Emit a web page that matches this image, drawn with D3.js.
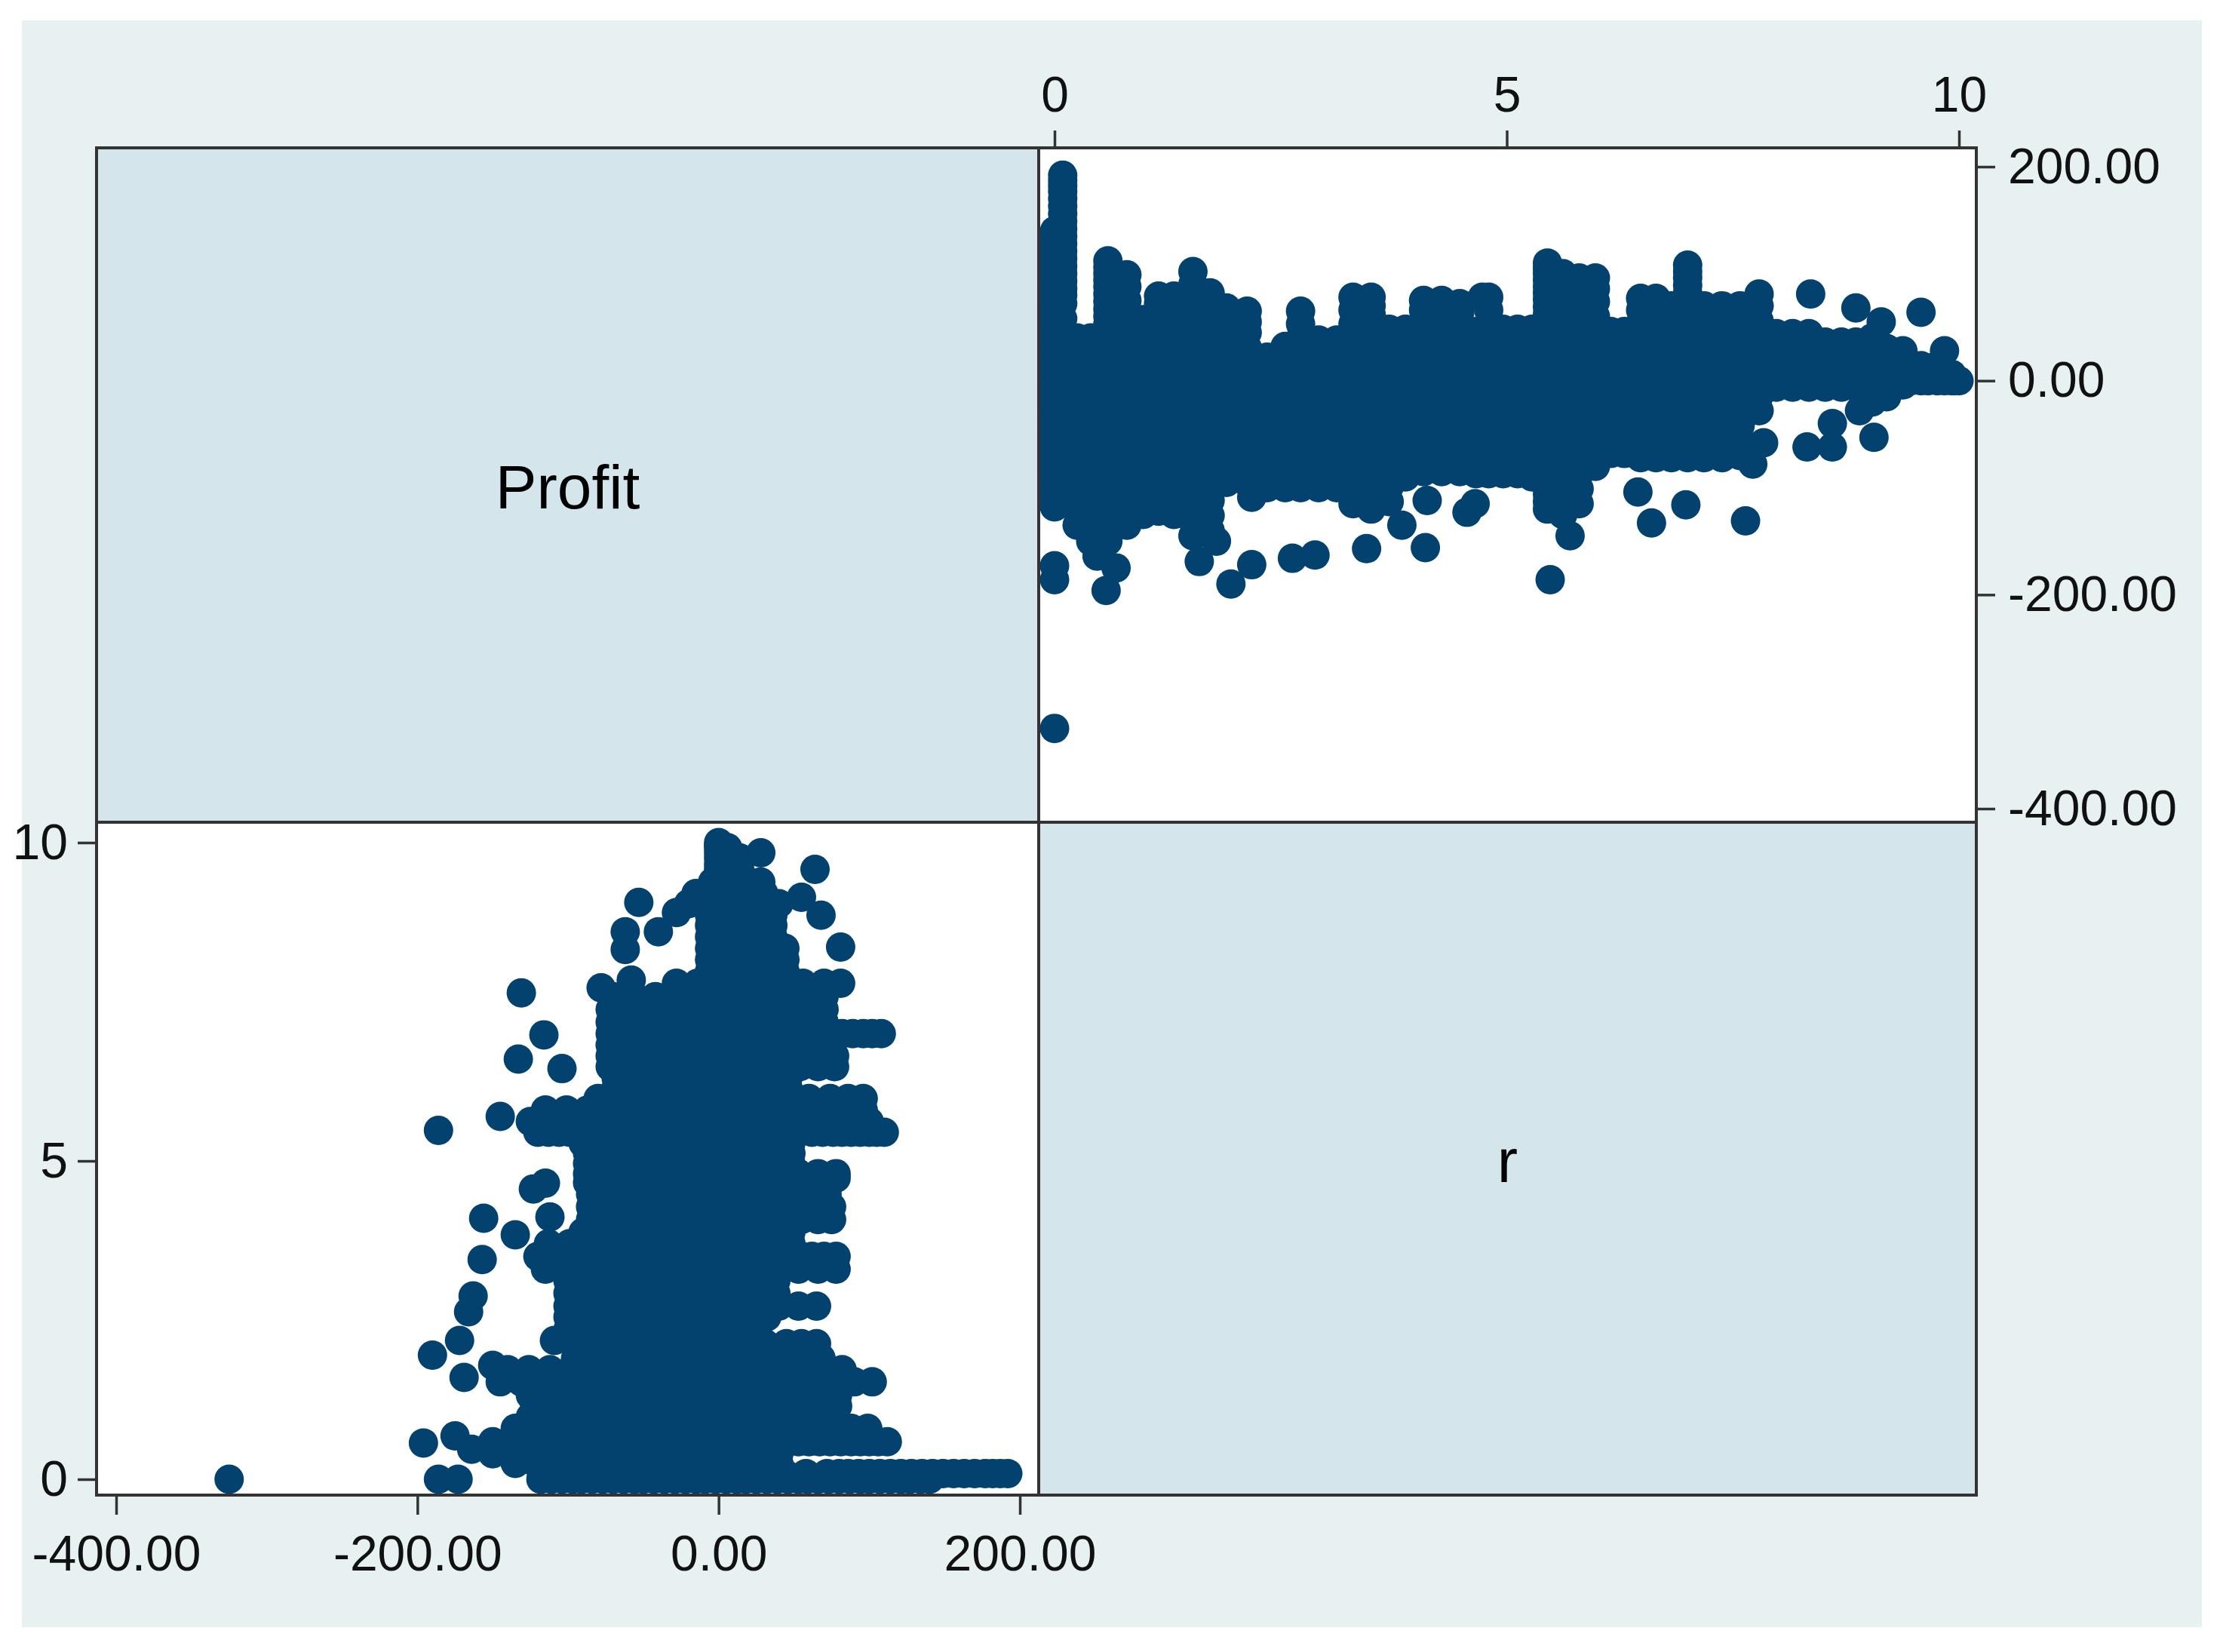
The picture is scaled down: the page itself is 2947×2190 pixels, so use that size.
<!DOCTYPE html>
<html>
<head>
<meta charset="utf-8">
<script src="https://cdnjs.cloudflare.com/ajax/libs/d3/7.8.5/d3.min.js"></script>
<style>
  html, body { margin: 0; padding: 0; background: #ffffff; }
  svg { display: block; }
</style>
</head>
<body>
<svg id="chart" width="2947" height="2190"></svg>
<script>
// ---------------- DATA ----------------
const varNames = ["Profit", "r"];

// r levels and the Profit values observed at each level
const rLevels = [0.00, 0.09, 0.25, 0.40, 0.59, 0.80, 0.98, 1.15, 1.32, 1.53, 1.72, 1.90, 2.13, 2.35, 2.55, 2.72, 2.92, 3.12,
  3.30, 3.50, 3.70, 3.88, 4.08, 4.28, 4.48, 4.66, 4.80, 4.96, 5.12, 5.28, 5.45, 5.62, 5.80, 5.98, 6.15, 6.30,
  6.48, 6.65, 6.82, 7.00, 7.18, 7.38, 7.58, 7.79, 7.98, 8.16, 8.34, 8.52, 8.70, 8.86, 9.04, 9.20, 9.38, 9.58, 9.76, 9.92, 10.00];

const profitAtLevel = [
  [-118,-111,-104,-97,-91,-84,-77,-70,-63,-56,-50,-43,-36,-29,-22,-15,-9,-2,5,12,18,25,32,39,46,53,59,66,73,80,87,94,100,107,114,121,127,134,140],
  [-110,-96,-82,-68,-54,-40,-26,-12,2,16,30,44,58,72,80,86,93,100,107,114,121,128,135,142,149,156,163,170,177,182,187,192],
  [-135,-121,-107,-93,-79,-65,-51,-37,-23,-9,5,19,30,40],
  [-150,-136,-122,-108,-94,-80,-66,-52,-38,-24,-10,4,18,30,40],
  [-150,-136,-122,-108,-94,-80,-66,-52,-45,-38,-31,-24,-17,-10,-3,4,11,18,25,32,39,46,53,60,67,74,81,88,94,100,106,112],
  [-135,-121,-107,-93,-79,-65,-51,-37,-23,-9,5,19,33,47,61,75,88,99],
  [-125,-111,-97,-83,-69,-55,-41,-27,-13,1,15,29,43,57],
  [-122,-108,-94,-80,-66,-52,-38,-24,-10,4,18,32,46,60,72,79],
  [-125,-111,-97,-83,-69,-55,-41,-27,-13,1,15,29,43,57,70,79],
  [-145,-131,-117,-103,-89,-75,-61,-47,-33,-19,-5,9,23,37,51,65,78,90,102],
  [-140,-126,-112,-98,-84,-70,-56,-42,-28,-14,0,14,28,42,56,70,82],
  [-95,-81,-67,-53,-39,-25,-11,3,17,31,45,57,68],
  [-95,-81,-67,-53,-39,-25,-11,3,17,31,45,55,65],
  [-100,-86,-72,-58,-44,-30,-16,-2,10,22],
  [-100,-86,-72,-58,-44,-30,-16,-2,12,22,32],
  [-100,-86,-72,-58,-44,-30,-16,-2,12,26,40,53,65],
  [-100,-86,-72,-58,-44,-30,-16,-2,12,26,38],
  [-100,-86,-72,-58,-44,-30,-16,-2,12,26,38],
  [-115,-101,-87,-73,-59,-45,-31,-17,-3,11,25,39,53,66,78],
  [-120,-113,-106,-99,-92,-85,-78,-71,-64,-50,-36,-22,-8,6,20,34,41,48,55,62,70,78],
  [-113,-99,-85,-71,-57,-43,-29,-15,-1,13,27,38,48],
  [-90,-76,-62,-48,-34,-20,-6,8,22,34,48],
  [-85,-71,-57,-43,-29,-15,-1,13,27,41,55,66,75],
  [-85,-71,-57,-43,-29,-15,-1,13,27,41,55,66,75],
  [-85,-71,-57,-43,-29,-15,-1,13,27,41,55,64,72],
  [-87,-73,-59,-45,-31,-17,-3,11,25,36,46],
  [-87,-73,-59,-45,-31,-17,-3,11,25,39,53,66,78],
  [-87,-73,-59,-45,-31,-17,-3,11,25,36,48],
  [-87,-73,-59,-45,-31,-17,-3,11,25,36,48],
  [-90,-76,-62,-48,-34,-20,-6,8,22,34,48],
  [-120,-113,-106,-99,-92,-85,-78,-64,-50,-36,-22,-8,6,20,34,48,62,69,76,82,88,94,100,105,110],
  [-125,-111,-97,-83,-69,-55,-41,-27,-13,1,15,29,43,57,71,85,100],
  [-115,-101,-87,-73,-59,-45,-31,-17,-3,11,25,39,53,67,81,88,96],
  [-80,-66,-52,-38,-24,-10,4,18,32,46,60,74,86,96],
  [-68,-54,-40,-26,-12,2,16,30,46],
  [-68,-54,-40,-26,-12,2,16,30,46],
  [-72,-58,-44,-30,-16,-2,12,26,40,54,66,77],
  [-72,-58,-44,-30,-16,-2,12,26,40,54,66,77],
  [-72,-58,-44,-30,-16,-2,12,26,40,54,64,70],
  [-72,-65,-58,-51,-44,-30,-16,-2,12,26,40,54,61,68,75,82,89,96,102,108],
  [-72,-58,-44,-30,-16,-2,12,26,40,54,64,70],
  [-72,-58,-44,-30,-16,-2,12,26,40,54,64,70],
  [-70,-56,-42,-28,-14,0,14,28,42,56,70],
  [-28,-14,0,14,28,42,56,70,81],
  [-6,8,22,34,44],
  [-6,8,22,34,44],
  [-6,8,22,34,44],
  [-6,8,22,36],
  [-6,8,22,36],
  [-6,8,22,36],
  [-20,-6,8,22,34,40],
  [-15,-2,12,24,30],
  [-4,10,20,28],
  [0,14],
  [0,14],
  [0,6],
  [0]
];

// observations with Profit exactly 0 at high r (flat row)
const zeroProfitR = [7.62, 7.70, 7.88, 8.06, 8.25, 8.44, 8.62, 8.78, 8.95, 9.12, 9.29, 9.47, 9.66, 9.84, 9.95];

// isolated observations
const outlierR      = [0.00, 0.00, 0.00, 0.47, 0.57, 0.68, 1.60, 1.79, 1.95, 2.18, 2.18, 2.63, 2.88, 3.45, 3.84, 4.10, 4.12, 4.56, 4.65,
  5.48, 5.70, 6.45, 6.60, 6.98, 7.64, 7.72, 7.84, 8.32, 8.60, 8.60, 8.90, 9.06, 8.36, 8.86, 9.14, 9.58, 9.84, 4.73];
const outlierProfit = [-173, -186, -325, -164, -196, -175, -169, -150, -190, -172, -109, -166, -163, -157, -135, -156, -112, -123, -115,
  -186, -145, -104, -133, -116, -131, -78, -58, -62, -62, -40, -28, -53, 81, 68, 55, 64, 28, 78];

// axis ticks
const rTicks = [0, 5, 10];
const rTickLabels = ["0", "5", "10"];
const profitTicks = [-400, -200, 0, 200];
const profitTickLabels = ["-400.00", "-200.00", "0.00", "200.00"];

// ---------------- BUILD ----------------
const points = [];
rLevels.forEach((r, i) => profitAtLevel[i].forEach(p => points.push({ r: r, profit: p })));
zeroProfitR.forEach(r => points.push({ r: r, profit: 0 }));
outlierR.forEach((r, i) => points.push({ r: r, profit: outlierProfit[i] }));

const svg = d3.select("#chart");
const FONT = "'Liberation Sans', Arial, Helvetica, sans-serif";
const markerColor = "#03426e";
const diagFill = "#d5e5ec";
const bgFill = "#e7f1f2";
const lineColor = "#333333";

// layout
const L = 128, R = 2620, T = 196, B = 1982, MX = 1377, MY = 1090;

// outer graph region
svg.append("rect").attr("x", 29).attr("y", 27).attr("width", 2919 - 29).attr("height", 2157 - 27)
  .attr("fill", bgFill);

// scales
const xR = d3.scaleLinear().domain([0, 10]).range([1398, 2597]);      // top-right x (r)
const yP = d3.scaleLinear().domain([-400, 200]).range([1072, 221]);   // top-right y (Profit)
const xP = d3.scaleLinear().domain([-400, 200]).range([154, 1352]);   // bottom-left x (Profit)
const yR = d3.scaleLinear().domain([0, 10]).range([1961, 1117]);      // bottom-left y (r)

const cells = [
  { x0: L, y0: T, x1: MX, y1: MY, fill: diagFill, label: varNames[0] },
  { x0: MX, y0: T, x1: R, y1: MY, fill: "#ffffff" },
  { x0: L, y0: MY, x1: MX, y1: B, fill: "#ffffff" },
  { x0: MX, y0: MY, x1: R, y1: B, fill: diagFill, label: varNames[1] }
];

cells.forEach(c => {
  svg.append("rect").attr("x", c.x0).attr("y", c.y0).attr("width", c.x1 - c.x0).attr("height", c.y1 - c.y0)
    .attr("fill", c.fill);
});

const defs = svg.append("defs");
defs.append("clipPath").attr("id", "clipTR").append("rect")
  .attr("x", MX).attr("y", T).attr("width", R - MX).attr("height", MY - T);
defs.append("clipPath").attr("id", "clipBL").append("rect")
  .attr("x", L).attr("y", MY).attr("width", MX - L).attr("height", B - MY);

const rad = 19.5;
svg.append("g").attr("clip-path", "url(#clipTR)")
  .selectAll("circle").data(points).join("circle")
  .attr("cx", d => xR(d.r)).attr("cy", d => yP(d.profit)).attr("r", rad)
  .attr("fill", markerColor);

svg.append("g").attr("clip-path", "url(#clipBL)")
  .selectAll("circle").data(points).join("circle")
  .attr("cx", d => xP(d.profit)).attr("cy", d => yR(d.r)).attr("r", rad)
  .attr("fill", markerColor);

// cell borders
cells.forEach(c => {
  svg.append("rect").attr("x", c.x0).attr("y", c.y0).attr("width", c.x1 - c.x0).attr("height", c.y1 - c.y0)
    .attr("fill", "none").attr("stroke", lineColor).attr("stroke-width", 4);
});

// diagonal labels
cells.filter(c => c.label).forEach(c => {
  svg.append("text").attr("x", (c.x0 + c.x1) / 2).attr("y", (c.y0 + c.y1) / 2 + 31)
    .attr("text-anchor", "middle").attr("font-family", FONT).attr("font-size", 82)
    .attr("fill", "#000").text(c.label);
});

function styleAxis(g) {
  g.select(".domain").remove();
  g.selectAll(".tick line").attr("stroke", lineColor).attr("stroke-width", 3.5);
  g.selectAll(".tick text").attr("font-family", FONT).attr("font-size", 66).attr("fill", "#111");
  g.attr("font-family", FONT).attr("font-size", 66);
}

// top axis: r
svg.append("g").attr("transform", `translate(0,${T})`)
  .call(d3.axisTop(xR).tickValues(rTicks).tickSize(23).tickPadding(25)
    .tickFormat((d, i) => rTickLabels[i]))
  .call(styleAxis);

// right axis: Profit
svg.append("g").attr("transform", `translate(${R},0)`)
  .call(d3.axisRight(yP).tickValues(profitTicks).tickSize(25).tickPadding(17)
    .tickFormat((d, i) => profitTickLabels[i]))
  .call(styleAxis);

// left axis: r
svg.append("g").attr("transform", `translate(${L},0)`)
  .call(d3.axisLeft(yR).tickValues(rTicks).tickSize(25).tickPadding(13)
    .tickFormat((d, i) => rTickLabels[i]))
  .call(styleAxis);

// bottom axis: Profit
svg.append("g").attr("transform", `translate(0,${B})`)
  .call(d3.axisBottom(xP).tickValues(profitTicks).tickSize(26).tickPadding(27)
    .tickFormat((d, i) => profitTickLabels[i]))
  .call(styleAxis);
</script>
</body>
</html>
